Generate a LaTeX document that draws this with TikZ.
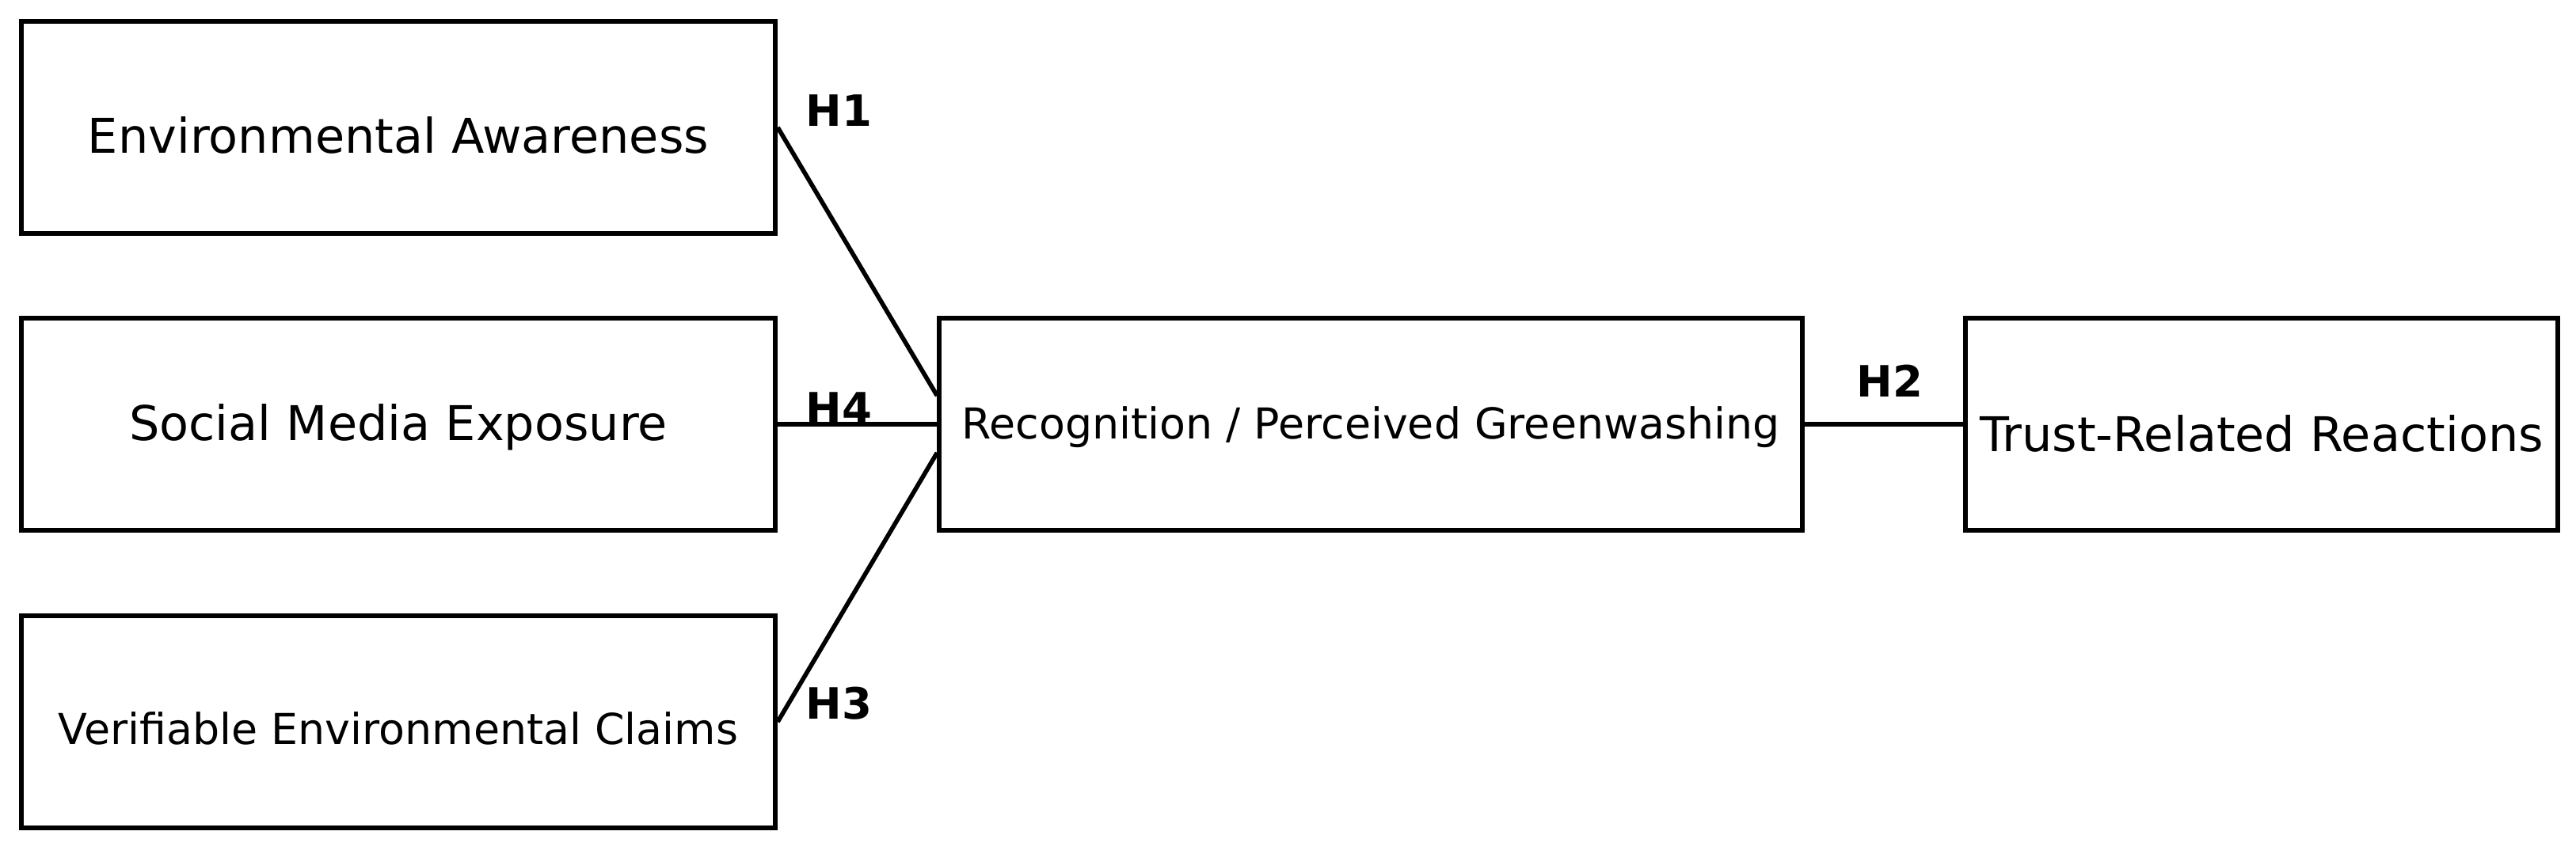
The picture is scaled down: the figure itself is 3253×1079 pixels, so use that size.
\documentclass[tikz,border=0pt]{standalone}
\usepackage{fontspec}
\setmainfont{DejaVu Sans}
\begin{document}
\begin{tikzpicture}[x=0.01cm,y=-0.01cm,
  box/.style={draw,line width=1.6pt,inner sep=0pt,minimum height=2.68cm},
  tx/.style={inner sep=0pt,anchor=center},
  ln/.style={line width=1.6pt},
  lab/.style={font=\fontsize{15.5}{18}\selectfont\bfseries,anchor=south west,inner sep=0pt}]
\useasboundingbox (0,0) rectangle (3253,1079);
\node[box,minimum width=9.52cm] (ea) at (503,161) {};
\node[box,minimum width=9.52cm] (sm) at (503,536) {};
\node[box,minimum width=9.52cm] (vc) at (503,912) {};
\node[box,minimum width=10.89cm] (rg) at (1731,536) {};
\node[box,minimum width=7.47cm] (tr) at (2856,536) {};
\node[tx,font=\fontsize{17.2}{20}\selectfont] (eat) at (503,171) {Environmental Awareness};
\node[tx,font=\fontsize{17.2}{20}\selectfont] (smt) at (503,540) {Social Media Exposure};
\node[tx,font=\fontsize{15.3}{18}\selectfont] (vct) at (503,920) {Verifiable Environmental Claims};
\node[tx,font=\fontsize{15.3}{18}\selectfont] (rgt) at (1731,540) {Recognition / Perceived Greenwashing};
\node[tx,font=\fontsize{17.2}{20}\selectfont] (trt) at (2856,548) {Trust-Related Reactions};
\coordinate (r1) at ([yshift=0.36cm]rg.west);
\coordinate (r3) at ([yshift=-0.36cm]rg.west);
\draw[ln] (ea.east) -- (r1);
\draw[ln] (sm.east) -- (rg.west);
\draw[ln] (vc.east) -- (r3);
\draw[ln] (rg.east) -- (tr.west);
\node[lab] (h1) at (1017,160) {H1};
\node[lab] (h4) at (1017,536) {H4};
\node[lab] (h3) at (1017,910) {H3};
\node[lab] (h2) at (2344,502) {H2};
\end{tikzpicture}
\end{document}
